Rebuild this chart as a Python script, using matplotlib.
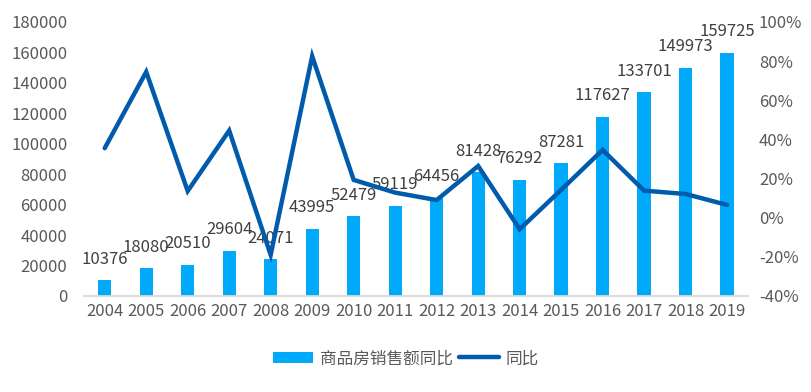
import matplotlib.pyplot as plt
from matplotlib.ticker import FuncFormatter

plt.rcParams['font.family'] = ['Noto Sans CJK SC', 'DejaVu Sans']

years = [str(y) for y in range(2004, 2020)]
sales = [10376, 18080, 20510, 29604, 24071, 43995, 52479, 59119,
         64456, 81428, 76292, 87281, 117627, 133701, 149973, 159725]
growth = [35.5, 74.5, 13.6, 44.5, -19.0, 82.5, 19.3, 12.8,
          9.0, 26.4, -5.9, 14.2, 34.6, 13.8, 12.1, 6.5]

bar_color = "#00A9FA"
line_color = "#005BAC"
tick_color = "#595959"
label_color = "#404040"

fig = plt.figure(figsize=(8.12, 3.92), dpi=100)
ax = fig.add_axes([0.1034, 0.245, 0.8176, 0.699])
ax2 = ax.twinx()

x = range(len(years))
bars = ax.bar(x, sales, width=0.32, color=bar_color, label="商品房销售额同比", zorder=2)
for xi, v in zip(x, sales):
    ax.annotate(str(v), (xi, v), xytext=(0, 9), textcoords="offset points",
                ha="center", va="bottom", fontsize=12, color=label_color, zorder=5)

line, = ax2.plot(x, growth, color=line_color, linewidth=3.2, label="同比",
                 solid_capstyle="round", solid_joinstyle="miter")

ax.set_xlim(-0.5, len(years) - 0.5)
ax.set_ylim(0, 180000)
ax.set_yticks(range(0, 180001, 20000))
ax2.set_ylim(-40, 100)
ax2.set_yticks(range(-40, 101, 20))
ax2.yaxis.set_major_formatter(FuncFormatter(lambda v, p: f"{int(v)}%"))

ax.set_xticks(list(x))
ax.set_xticklabels(years)

for a in (ax, ax2):
    for s in a.spines.values():
        s.set_visible(False)
    a.tick_params(length=0, labelsize=12, colors=tick_color)
ax.spines["bottom"].set_visible(True)
ax.spines["bottom"].set_color("#D9D9D9")
ax.spines["bottom"].set_linewidth(1.3)
ax.tick_params(axis="x", pad=5)
ax.tick_params(axis="y", pad=12)
ax2.tick_params(axis="y", pad=8)

ax2.set_zorder(ax.get_zorder() + 1)
ax.patch.set_visible(False)

fig.legend([bars, line], ["商品房销售额同比", "同比"], loc="center",
           bbox_to_anchor=(0.5, 0.085), ncol=2, frameon=False, fontsize=12,
           handlelength=2.4, columnspacing=0.4, handletextpad=0.4,
           labelcolor=tick_color)

fig.savefig("out.png", dpi=100)
